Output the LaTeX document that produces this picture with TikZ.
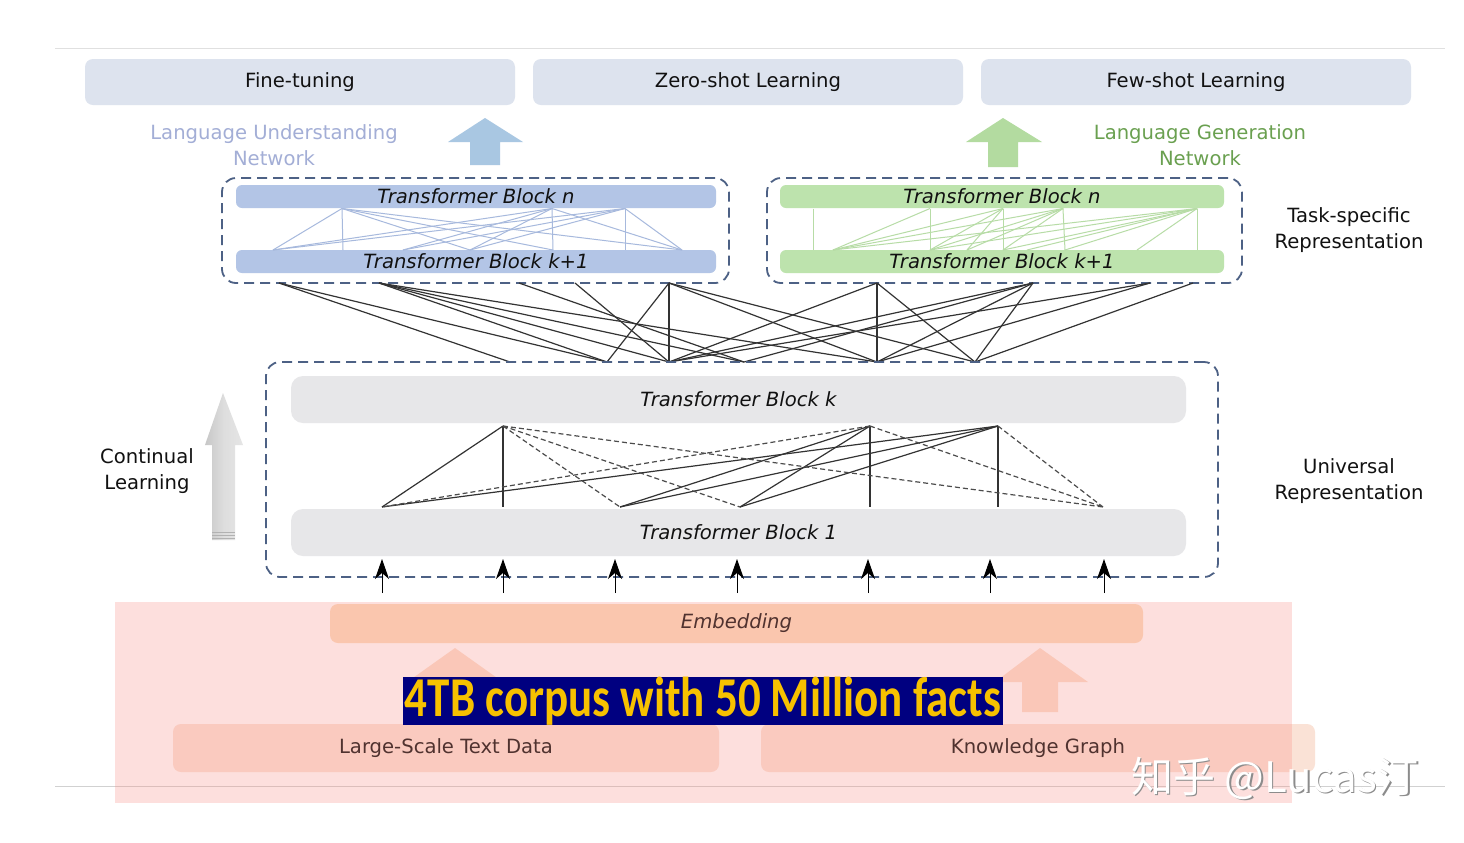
\documentclass[tikz,border=0pt]{standalone}
\usepackage{fontspec}
\usepackage{graphicx}
\setmainfont{DejaVu Sans}[ItalicFont={DejaVu Sans Oblique},BoldFont={DejaVu Sans Bold}]
\newfontfamily\bannerfont{Carlito}[BoldFont={Carlito Bold}]
\newfontfamily\cjkfont{Noto Sans CJK SC}
\usetikzlibrary{arrows.meta}
\definecolor{topfill}{HTML}{DDE3EE}
\definecolor{lutext}{HTML}{A3AED6}
\definecolor{lgtext}{HTML}{6AA050}
\definecolor{bluearrow}{HTML}{A9C7E2}
\definecolor{greenarrow}{HTML}{B3DBA0}
\definecolor{dashc}{HTML}{4D6185}
\definecolor{bluefill}{HTML}{B3C5E6}
\definecolor{blueline}{HTML}{A7B9DD}
\definecolor{greenfill}{HTML}{BDE3AD}
\definecolor{greenline}{HTML}{B7DCA6}
\definecolor{grayfill}{HTML}{E7E7E9}
\definecolor{embfill}{HTML}{FBDCBF}
\definecolor{srcfill}{HTML}{FAE2D6}
\definecolor{pinkarrow}{HTML}{FBDECD}
\definecolor{pinkov}{RGB}{250,140,130}
\definecolor{bannerbg}{HTML}{000080}
\definecolor{bannertext}{HTML}{F7C100}
\definecolor{txt}{HTML}{111111}
\tikzset{
  lbl/.style={font=\fontsize{9.8}{13}\selectfont, text=txt, align=center, inner sep=0pt},
  topbox/.style={fill=topfill, rounded corners=4pt, minimum width=215pt, minimum height=23pt, inner sep=0pt, font=\fontsize{9.8}{11}\selectfont, text=txt},
  dbox/.style={draw=dashc, dash pattern=on 5pt off 3pt, line width=0.9pt, rounded corners=7pt, inner sep=0pt},
  blk/.style={rounded corners=3pt, minimum height=11.5pt, inner sep=0pt, font=\fontsize{9.8}{11}\selectfont\itshape, text=txt},
  gblk/.style={fill=grayfill, rounded corners=6pt, minimum width=447.5pt, minimum height=23.5pt, inner sep=0pt, font=\fontsize{9.8}{11}\selectfont\itshape, text=txt},
  srcbox/.style={fill=srcfill, rounded corners=4pt, minimum height=24pt, inner sep=0pt, font=\fontsize{9.8}{11}\selectfont, text=txt},
  bl/.style={blueline, line width=0.5pt},
  gl/.style={greenline, line width=0.5pt},
  kl/.style={black!80, line width=0.6pt},
  kd/.style={black!70, line width=0.6pt, dash pattern=on 2.5pt off 1.5pt},
  uparrow/.style={black, line width=0.5pt, -{Stealth[length=10pt,width=7pt,inset=3pt]}}
}
\begin{document}
\begin{tikzpicture}[x=0.5pt,y=-0.5pt]
\useasboundingbox (0,0) rectangle (1464,842);
\fill[white] (0,0) rectangle (1464,842);
% thin gray rules
\draw[black!12, line width=0.5pt] (55,48) -- (1445,48);
% top boxes
\node[topbox] (ft) at (300,82) {Fine-tuning};
\node[topbox] (zs) at (748,82) {Zero-shot Learning};
\node[topbox] (fs) at (1196,82) {Few-shot Learning};
% network labels
\node[lbl, text=lutext] (lun) at (274,145) {Language Understanding\\Network};
\node[lbl, text=lgtext] (lgn) at (1200,145) {Language Generation\\Network};
% wide up arrows
\fill[bluearrow] (485,118) -- (523,142) -- (500,142) -- (500,165) -- (470,165) -- (470,142) -- (448,142) -- cycle;
\fill[greenarrow] (1003,118) -- (1042,142) -- (1018,142) -- (1018,167) -- (988,167) -- (988,142) -- (966,142) -- cycle;
% task-specific boxes
\node[dbox, minimum width=253.5pt, minimum height=52.5pt] (lbox) at (475.5,230.5) {};
\node[dbox, minimum width=237.5pt, minimum height=52.5pt] (rbox) at (1004.5,230.5) {};
\node[blk, fill=bluefill, minimum width=240pt] (bn) at (476,196.5) {Transformer Block \textit{n}};
\node[blk, fill=bluefill, minimum width=240pt] (bk) at (476,261.5) {Transformer Block \textit{k}+1};
\node[blk, fill=greenfill, minimum width=222pt] (gn) at (1002,196.5) {Transformer Block \textit{n}};
\node[blk, fill=greenfill, minimum width=222pt] (gk) at (1002,261.5) {Transformer Block \textit{k}+1};
% blue lines
\foreach \n/\x in {1/342,2/552,3/625} \coordinate (a\n) at (\x,208.5);
\foreach \n/\x in {1/273,2/343,3/403,4/470,5/553,6/625,7/682} \coordinate (b\n) at (\x,250);
\foreach \p/\q in {a1/b1,a1/b2,a1/b4,a1/b5,a1/b7,a2/b1,a2/b3,a2/b4,a2/b5,a2/b7,a3/b1,a3/b3,a3/b4,a3/b6,a3/b7}
  \draw[bl] (\p) -- (\q);
% green lines
\foreach \n/\x in {1/813,2/930,3/1003,4/1063,5/1197} \coordinate (c\n) at (\x,208.5);
\foreach \n/\x in {1/813,2/833,3/930,4/967,5/1003,6/1027,7/1065,8/1137,9/1197} \coordinate (d\n) at (\x,250);
\foreach \p/\q in {c1/d1,c2/d3,c3/d5,c4/d7,c5/d9,c2/d2,c3/d2,c4/d2,c5/d2,c3/d3,c4/d3,c5/d3,c4/d4,c4/d5,c5/d5,c5/d6,c5/d8,c5/d7,c3/d4}
  \draw[gl] (\p) -- (\q);
% labels right
\node[lbl] (tsr) at (1349,230) {Task-specific\\Representation};
\node[lbl] (ur) at (1349,481) {Universal\\Representation};
% connections between task boxes and universal box
\foreach \n/\x in {1/279,2/379,3/519,4/575,5/669,6/877,7/1033,8/1150,9/1193} \coordinate (t\n) at (\x,283);
\foreach \n/\x in {1/510,2/607,3/669,4/744,5/877,6/975} \coordinate (u\n) at (\x,362);
\foreach \p/\q in {t1/u1,t1/u2,t2/u2,t2/u3,t2/u4,t2/u5,t3/u4,t4/u3,t5/u2,t5/u3,t5/u5,t5/u6,t6/u3,t6/u5,t6/u6,t7/u3,t7/u4,t7/u5,t7/u6,t8/u3,t8/u5,t9/u6}
  \draw[kl] (\p) -- (\q);
% universal box
\node[dbox, minimum width=476pt, minimum height=107.5pt] (ubox) at (742,469.5) {};
\node[gblk] (tbk) at (738.5,399.5) {Transformer Block \textit{k}};
\node[gblk] (tb1) at (738.5,532.5) {Transformer Block 1};
\foreach \n/\x in {1/503,2/870,3/998} \coordinate (p\n) at (\x,426);
\foreach \n/\x in {1/382,2/503,3/620,4/740,5/870,6/998,7/1103} \coordinate (q\n) at (\x,507);
\foreach \p/\q in {p1/q1,p1/q2,p3/q1,p2/q3,p2/q4,p2/q5,p3/q3,p3/q4,p3/q6}
  \draw[kl] (\p) -- (\q);
\foreach \p/\q in {p1/q3,p1/q4,p1/q7,p2/q1,p2/q7,p3/q7}
  \draw[kd] (\p) -- (\q);
% small arrows into universal box
\foreach \n/\x in {1/382,2/503,3/615,4/737,5/868,6/990,7/1104} {
  \coordinate (s\n) at (\x,593);
  \coordinate (e\n) at (\x,559);
  \draw[uparrow] (s\n) -- (e\n);
}
% continual learning arrow
\shade[left color=black!22, right color=black!10, middle color=black!13]
  (223,393) -- (243,445) -- (235,445) -- (235,540) -- (212,540) -- (212,445) -- (205,445) -- cycle;
\foreach \yy in {532,535,538} \draw[black!30, line width=0.3pt] (212,\yy) -- (235,\yy);
\node[lbl] (cl) at (147,471) {Continual\\Learning};
% bottom part
\draw[black!18, line width=0.5pt] (55,786) -- (1445,786);
\fill[pinkarrow] (455,648) -- (500,680) -- (473,680) -- (473,712) -- (437,712) -- (437,680) -- (410,680) -- cycle;
\fill[pinkarrow] (1040,648) -- (1088,682) -- (1058,682) -- (1058,712) -- (1022,712) -- (1022,682) -- (995,682) -- cycle;
\node[blk, fill=embfill, rounded corners=4pt, minimum width=406.5pt, minimum height=19.5pt] (emb) at (736.5,623.5) {Embedding};
\node[srcbox, minimum width=273pt] (ltd) at (446,748) {Large-Scale Text Data};
\node[srcbox, minimum width=277pt] (kg) at (1038,748) {Knowledge Graph};
\fill[pinkov, fill opacity=0.27] (115,602) rectangle (1292,803);
% banner
\node[fill=bannerbg, minimum width=300pt, minimum height=23pt, inner sep=0pt, text=bannertext] (ban) at (703,701)
  {\raisebox{-1pt}{\scalebox{1}[1.25]{\bannerfont\bfseries\fontsize{22.5}{24}\selectfont 4TB corpus with 50 Million facts}}};
% watermark
\node[text=black!45, font=\cjkfont\fontsize{21}{24}\selectfont, inner sep=0pt] (wms) at (1276.5,779.5) {知乎 @Lucas汀};
\node[text=white, font=\cjkfont\fontsize{21}{24}\selectfont, inner sep=0pt] (wm) at (1275,778) {知乎 @Lucas汀};
\end{tikzpicture}
\end{document}
